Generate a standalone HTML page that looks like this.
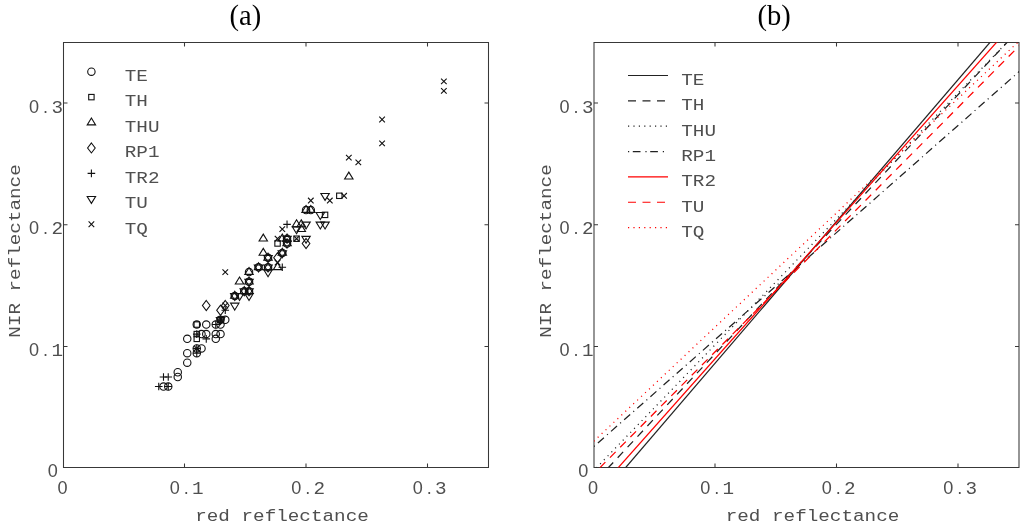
<!DOCTYPE html><html><head><meta charset="utf-8"><title>Figure</title><style>html,body{margin:0;padding:0;background:#fff;overflow:hidden}svg{display:block}</style></head><body>
<svg width="1024" height="524" viewBox="0 0 1024 524">
<rect width="1024" height="524" fill="#fff"/>
<g font-family="'Liberation Serif', 'Times New Roman', serif" font-size="28.5" fill="#000"><text x="229.6" y="25">(a)</text><text x="757.6" y="25">(b)</text></g>
<path d="M63.5 42.5H488.5V467.5H63.5Z" fill="none" stroke="#383838" stroke-width="1.05"/>
<path d="M184.5 467.5v-4M184.5 42.5v4M63.5 346.5h4M488.5 346.5h-4M306 467.5v-4M306 42.5v4M63.5 224.8h4M488.5 224.8h-4M427.5 467.5v-4M427.5 42.5v4M63.5 103h4M488.5 103h-4" fill="none" stroke="#383838" stroke-width="1.05"/>
<g font-family="'Liberation Mono', 'Courier New', monospace" font-size="19.3" fill="#4f4f4f">
<text transform="translate(0 494.3) scale(1 0.97)" y="0" text-anchor="middle"><tspan x="62.6" font-family="'Liberation Sans', Arial, sans-serif" font-size="18.1">0</tspan></text>
<text transform="translate(0 494.3) scale(1 0.97)" y="0" text-anchor="middle"><tspan x="174.72" font-family="'Liberation Sans', Arial, sans-serif" font-size="18.1">0</tspan><tspan x="186.3" font-family="'Liberation Sans', Arial, sans-serif" font-size="18.1">.</tspan><tspan x="197.88">1</tspan></text>
<text transform="translate(0 494.3) scale(1 0.97)" y="0" text-anchor="middle"><tspan x="296.22" font-family="'Liberation Sans', Arial, sans-serif" font-size="18.1">0</tspan><tspan x="307.8" font-family="'Liberation Sans', Arial, sans-serif" font-size="18.1">.</tspan><tspan x="319.38">2</tspan></text>
<text transform="translate(0 494.3) scale(1 0.97)" y="0" text-anchor="middle"><tspan x="417.72" font-family="'Liberation Sans', Arial, sans-serif" font-size="18.1">0</tspan><tspan x="429.3" font-family="'Liberation Sans', Arial, sans-serif" font-size="18.1">.</tspan><tspan x="440.88">3</tspan></text>
<text transform="translate(0 477.4) scale(1 0.97)" y="0" text-anchor="middle"><tspan x="52.81" font-family="'Liberation Sans', Arial, sans-serif" font-size="18.1">0</tspan></text>
<text transform="translate(0 356.1) scale(1 0.97)" y="0" text-anchor="middle"><tspan x="34.05" font-family="'Liberation Sans', Arial, sans-serif" font-size="18.1">0</tspan><tspan x="45.63" font-family="'Liberation Sans', Arial, sans-serif" font-size="18.1">.</tspan><tspan x="57.21">1</tspan></text>
<text transform="translate(0 234.4) scale(1 0.97)" y="0" text-anchor="middle"><tspan x="34.05" font-family="'Liberation Sans', Arial, sans-serif" font-size="18.1">0</tspan><tspan x="45.63" font-family="'Liberation Sans', Arial, sans-serif" font-size="18.1">.</tspan><tspan x="57.21">2</tspan></text>
<text transform="translate(0 112.6) scale(1 0.97)" y="0" text-anchor="middle"><tspan x="34.05" font-family="'Liberation Sans', Arial, sans-serif" font-size="18.1">0</tspan><tspan x="45.63" font-family="'Liberation Sans', Arial, sans-serif" font-size="18.1">.</tspan><tspan x="57.21">3</tspan></text>
</g>
<path d="M594 42.5H1019V467.5H594Z" fill="none" stroke="#383838" stroke-width="1.05"/>
<path d="M715 467.5v-4M715 42.5v4M594 346.5h4M1019 346.5h-4M836.5 467.5v-4M836.5 42.5v4M594 224.8h4M1019 224.8h-4M958 467.5v-4M958 42.5v4M594 103h4M1019 103h-4" fill="none" stroke="#383838" stroke-width="1.05"/>
<g font-family="'Liberation Mono', 'Courier New', monospace" font-size="19.3" fill="#4f4f4f">
<text transform="translate(0 494.3) scale(1 0.97)" y="0" text-anchor="middle"><tspan x="593.1" font-family="'Liberation Sans', Arial, sans-serif" font-size="18.1">0</tspan></text>
<text transform="translate(0 494.3) scale(1 0.97)" y="0" text-anchor="middle"><tspan x="705.22" font-family="'Liberation Sans', Arial, sans-serif" font-size="18.1">0</tspan><tspan x="716.8" font-family="'Liberation Sans', Arial, sans-serif" font-size="18.1">.</tspan><tspan x="728.38">1</tspan></text>
<text transform="translate(0 494.3) scale(1 0.97)" y="0" text-anchor="middle"><tspan x="826.72" font-family="'Liberation Sans', Arial, sans-serif" font-size="18.1">0</tspan><tspan x="838.3" font-family="'Liberation Sans', Arial, sans-serif" font-size="18.1">.</tspan><tspan x="849.88">2</tspan></text>
<text transform="translate(0 494.3) scale(1 0.97)" y="0" text-anchor="middle"><tspan x="948.22" font-family="'Liberation Sans', Arial, sans-serif" font-size="18.1">0</tspan><tspan x="959.8" font-family="'Liberation Sans', Arial, sans-serif" font-size="18.1">.</tspan><tspan x="971.38">3</tspan></text>
<text transform="translate(0 477.4) scale(1 0.97)" y="0" text-anchor="middle"><tspan x="583.31" font-family="'Liberation Sans', Arial, sans-serif" font-size="18.1">0</tspan></text>
<text transform="translate(0 356.1) scale(1 0.97)" y="0" text-anchor="middle"><tspan x="564.55" font-family="'Liberation Sans', Arial, sans-serif" font-size="18.1">0</tspan><tspan x="576.13" font-family="'Liberation Sans', Arial, sans-serif" font-size="18.1">.</tspan><tspan x="587.71">1</tspan></text>
<text transform="translate(0 234.4) scale(1 0.97)" y="0" text-anchor="middle"><tspan x="564.55" font-family="'Liberation Sans', Arial, sans-serif" font-size="18.1">0</tspan><tspan x="576.13" font-family="'Liberation Sans', Arial, sans-serif" font-size="18.1">.</tspan><tspan x="587.71">2</tspan></text>
<text transform="translate(0 112.6) scale(1 0.97)" y="0" text-anchor="middle"><tspan x="564.55" font-family="'Liberation Sans', Arial, sans-serif" font-size="18.1">0</tspan><tspan x="576.13" font-family="'Liberation Sans', Arial, sans-serif" font-size="18.1">.</tspan><tspan x="587.71">3</tspan></text>
</g>
<g font-family="'Liberation Mono', 'Courier New', monospace" font-size="19.3" fill="#4f4f4f"><text transform="translate(282 520.6) scale(1 0.86)" text-anchor="middle">red reflectance</text><text transform="translate(20.2 251) rotate(-90) scale(1 0.88)" text-anchor="middle">NIR reflectance</text></g>
<g font-family="'Liberation Mono', 'Courier New', monospace" font-size="19.3" fill="#4f4f4f"><text transform="translate(812.5 520.6) scale(1 0.86)" text-anchor="middle">red reflectance</text><text transform="translate(550.7 251) rotate(-90) scale(1 0.88)" text-anchor="middle">NIR reflectance</text></g>
<g fill="none" stroke="#111" stroke-width="1.1">
<circle cx="163.49" cy="386.55" r="3.7"/>
<circle cx="168.24" cy="386.55" r="3.7"/>
<circle cx="177.75" cy="377.01" r="3.7"/>
<circle cx="177.75" cy="372.24" r="3.7"/>
<circle cx="187.25" cy="362.7" r="3.7"/>
<circle cx="187.25" cy="353.16" r="3.7"/>
<circle cx="187.25" cy="338.86" r="3.7"/>
<circle cx="196.76" cy="353.16" r="3.7"/>
<circle cx="196.76" cy="348.39" r="3.7"/>
<circle cx="201.51" cy="348.39" r="3.7"/>
<circle cx="196.76" cy="324.55" r="3.7"/>
<circle cx="206.26" cy="324.55" r="3.7"/>
<circle cx="215.76" cy="324.55" r="3.7"/>
<circle cx="220.52" cy="324.55" r="3.7"/>
<circle cx="201.51" cy="334.09" r="3.7"/>
<circle cx="206.26" cy="334.09" r="3.7"/>
<circle cx="215.76" cy="334.09" r="3.7"/>
<circle cx="215.76" cy="338.86" r="3.7"/>
<circle cx="220.52" cy="319.78" r="3.7"/>
<circle cx="225.27" cy="319.78" r="3.7"/>
<circle cx="234.77" cy="295.94" r="3.7"/>
<circle cx="244.28" cy="291.17" r="3.7"/>
<circle cx="249.03" cy="291.17" r="3.7"/>
<circle cx="249.03" cy="281.63" r="3.7"/>
<circle cx="249.03" cy="272.09" r="3.7"/>
<circle cx="258.53" cy="267.32" r="3.7"/>
<circle cx="268.04" cy="267.32" r="3.7"/>
<circle cx="268.04" cy="257.78" r="3.7"/>
<circle cx="282.29" cy="253.01" r="3.7"/>
<circle cx="287.04" cy="238.71" r="3.7"/>
<circle cx="287.04" cy="243.48" r="3.7"/>
<circle cx="306.05" cy="210.09" r="3.7"/>
<circle cx="310.8" cy="210.09" r="3.7"/>
<circle cx="220.52" cy="334.09" r="3.7"/>
<rect x="194.06" y="336.16" width="5.4" height="5.4"/>
<rect x="194.06" y="331.39" width="5.4" height="5.4"/>
<rect x="194.06" y="321.85" width="5.4" height="5.4"/>
<rect x="217.82" y="317.08" width="5.4" height="5.4"/>
<rect x="274.84" y="240.78" width="5.4" height="5.4"/>
<rect x="293.85" y="236.01" width="5.4" height="5.4"/>
<rect x="322.36" y="212.16" width="5.4" height="5.4"/>
<rect x="336.62" y="193.09" width="5.4" height="5.4"/>
<path d="M234.77 291.34L238.97 298.24H230.57Z"/>
<path d="M244.28 286.57L248.48 293.47H240.08Z"/>
<path d="M249.03 286.57L253.23 293.47H244.83Z"/>
<path d="M239.52 277.03L243.72 283.93H235.32Z"/>
<path d="M249.03 277.03L253.23 283.93H244.83Z"/>
<path d="M249.03 267.49L253.23 274.39H244.83Z"/>
<path d="M258.53 262.72L262.73 269.62H254.33Z"/>
<path d="M268.04 262.72L272.24 269.62H263.84Z"/>
<path d="M268.04 253.18L272.24 260.08H263.84Z"/>
<path d="M277.54 262.72L281.74 269.62H273.34Z"/>
<path d="M263.28 248.41L267.48 255.31H259.08Z"/>
<path d="M282.29 248.41L286.49 255.31H278.09Z"/>
<path d="M263.28 234.11L267.48 241.01H259.08Z"/>
<path d="M282.29 234.11L286.49 241.01H278.09Z"/>
<path d="M287.04 234.11L291.24 241.01H282.84Z"/>
<path d="M287.04 238.88L291.24 245.78H282.84Z"/>
<path d="M296.55 219.8L300.75 226.7H292.35Z"/>
<path d="M301.3 219.8L305.5 226.7H297.1Z"/>
<path d="M301.3 224.57L305.5 231.47H297.1Z"/>
<path d="M306.05 205.49L310.25 212.39H301.85Z"/>
<path d="M310.8 205.49L315 212.39H306.6Z"/>
<path d="M348.82 172.11L353.02 179.01H344.62Z"/>
<path d="M234.77 310.07L238.97 303.17H230.57Z"/>
<path d="M234.77 300.54L238.97 293.64H230.57Z"/>
<path d="M239.52 300.54L243.72 293.64H235.32Z"/>
<path d="M244.28 295.77L248.48 288.87H240.08Z"/>
<path d="M249.03 295.77L253.23 288.87H244.83Z"/>
<path d="M249.03 300.54L253.23 293.64H244.83Z"/>
<path d="M249.03 286.23L253.23 279.33H244.83Z"/>
<path d="M258.53 271.92L262.73 265.02H254.33Z"/>
<path d="M268.04 271.92L272.24 265.02H263.84Z"/>
<path d="M268.04 276.69L272.24 269.79H263.84Z"/>
<path d="M268.04 262.38L272.24 255.48H263.84Z"/>
<path d="M282.29 257.62L286.49 250.71H278.09Z"/>
<path d="M287.04 248.08L291.24 241.18H282.84Z"/>
<path d="M287.04 243.31L291.24 236.41H282.84Z"/>
<path d="M296.55 233.77L300.75 226.87H292.35Z"/>
<path d="M306.05 229L310.25 222.1H301.85Z"/>
<path d="M306.05 243.31L310.25 236.41H301.85Z"/>
<path d="M320.31 229L324.51 222.1H316.11Z"/>
<path d="M325.06 229L329.26 222.1H320.86Z"/>
<path d="M320.31 219.46L324.51 212.56H316.11Z"/>
<path d="M325.06 200.39L329.26 193.49H320.86Z"/>
<path d="M220.52 324.38L224.72 317.48H216.32Z"/>
<path d="M206.26 300.47L210.06 305.47L206.26 310.47L202.46 305.47Z"/>
<path d="M225.27 300.47L229.07 305.47L225.27 310.47L221.47 305.47Z"/>
<path d="M220.52 305.24L224.32 310.24L220.52 315.24L216.72 310.24Z"/>
<path d="M277.54 252.78L281.34 257.78L277.54 262.78L273.74 257.78Z"/>
<path d="M306.05 238.48L309.85 243.48L306.05 248.48L302.25 243.48Z"/>
<path d="M192.96 334.09H200.56M196.76 330.29V337.89"/>
<path d="M154.94 386.55H162.54M158.74 382.75V390.35"/>
<path d="M159.69 377.01H167.29M163.49 373.21V380.81"/>
<path d="M164.44 377.01H172.04M168.24 373.21V380.81"/>
<path d="M164.44 386.55H172.04M168.24 382.75V390.35"/>
<path d="M192.96 353.16H200.56M196.76 349.36V356.96"/>
<path d="M192.96 348.39H200.56M196.76 344.59V352.19"/>
<path d="M202.46 338.86H210.06M206.26 335.06V342.66"/>
<path d="M211.96 324.55H219.56M215.76 320.75V328.35"/>
<path d="M221.47 310.24H229.07M225.27 306.44V314.04"/>
<path d="M278.49 267.32H286.09M282.29 263.52V271.12"/>
<path d="M283.24 224.4H290.84M287.04 220.6V228.2"/>
<path d="M216.72 319.78H224.32M220.52 315.98V323.58"/>
<path d="M193.96 345.59L199.56 351.19M193.96 351.19L199.56 345.59"/>
<path d="M222.47 269.29L228.07 274.89M222.47 274.89L228.07 269.29"/>
<path d="M274.74 259.75L280.34 265.35M274.74 265.35L280.34 259.75"/>
<path d="M274.74 235.91L280.34 241.51M274.74 241.51L280.34 235.91"/>
<path d="M279.49 226.37L285.09 231.97M279.49 231.97L285.09 226.37"/>
<path d="M308 197.76L313.6 203.36M308 203.36L313.6 197.76"/>
<path d="M327.01 197.76L332.61 203.36M327.01 203.36L332.61 197.76"/>
<path d="M341.27 192.99L346.87 198.59M341.27 198.59L346.87 192.99"/>
<path d="M346.02 154.83L351.62 160.44M346.02 160.44L351.62 154.83"/>
<path d="M355.52 159.6L361.12 165.2M355.52 165.2L361.12 159.6"/>
<path d="M379.28 140.53L384.88 146.13M379.28 146.13L384.88 140.53"/>
<path d="M379.28 116.68L384.88 122.28M379.28 122.28L384.88 116.68"/>
<path d="M441.06 88.07L446.66 93.67M441.06 93.67L446.66 88.07"/>
<path d="M441.06 78.53L446.66 84.13M441.06 84.13L446.66 78.53"/>
<path d="M222.47 302.67L228.07 308.27M222.47 308.27L228.07 302.67"/>
<path d="M293.75 235.91L299.35 241.51M293.75 241.51L299.35 235.91"/>
<path d="M217.72 316.98L223.32 322.58M217.72 322.58L223.32 316.98"/>
<circle cx="91.4" cy="71.7" r="3.7"/>
<rect x="88.7" y="94.42" width="5.4" height="5.4"/>
<path d="M91.4 117.94L95.6 124.84H87.2Z"/>
<path d="M91.4 142.96L95.2 147.96L91.4 152.96L87.6 147.96Z"/>
<path d="M87.6 173.38H95.2M91.4 169.58V177.18"/>
<path d="M91.4 203.4L95.6 196.5H87.2Z"/>
<path d="M88.6 221.42L94.2 227.02M88.6 227.02L94.2 221.42"/>
</g>
<g font-family="'Liberation Mono', 'Courier New', monospace" font-size="19.3" fill="#4f4f4f">
<text transform="translate(124.8 81) scale(1 0.89)">TE</text>
<text transform="translate(124.8 106.42) scale(1 0.89)">TH</text>
<text transform="translate(124.8 131.84) scale(1 0.89)">THU</text>
<text transform="translate(124.8 157.26) scale(1 0.89)">RP1</text>
<text transform="translate(124.8 182.68) scale(1 0.89)">TR2</text>
<text transform="translate(124.8 208.1) scale(1 0.89)">TU</text>
<text transform="translate(124.8 233.52) scale(1 0.89)">TQ</text>
</g>
<defs><clipPath id="cb"><rect x="594" y="42.5" width="425" height="425"/></clipPath></defs>
<g clip-path="url(#cb)" fill="none" stroke-width="1.25">
<path d="M623.75 469.78L991.85 40.22" stroke="#222"/>
<path d="M606.45 469.69L1009.05 40.31" stroke="#222" stroke-dasharray="8 6.49" stroke-dashoffset="12.58"/>
<path d="M594.62 469.66L1008.88 40.34" stroke="#222" stroke-dasharray="1.1 4.34" stroke-dashoffset="2.96"/>
<path d="M591.75 448.38L1021.25 69.72" stroke="#222" stroke-dasharray="8 4.2 1.1 4.2" stroke-dashoffset="9.3"/>
<path d="M616.41 469.74L998.39 40.26" stroke="#f00"/>
<path d="M597.98 469.63L1021.22 43.87" stroke="#f00" stroke-dasharray="8 6.5" stroke-dashoffset="12.0"/>
<path d="M591.81 443.06L1019.79 40.44" stroke="#f00" stroke-dasharray="1.1 4.326" stroke-dashoffset="2.77"/>
</g>
<g fill="none" stroke-width="1.2">
<path d="M628 75.5H668" stroke="#222"/>
<path d="M628 100.85H668" stroke="#222" stroke-dasharray="8 6.49"/>
<path d="M628 126.2H668" stroke="#222" stroke-dasharray="1.2 4.2"/>
<path d="M628 151.55H667" stroke="#222" stroke-dasharray="1.2 3.6 7.7 4.9"/>
<path d="M628 176.9H668" stroke="#f00"/>
<path d="M628 202.25H668" stroke="#f00" stroke-dasharray="8 6.5"/>
<path d="M628 227.6H668" stroke="#f00" stroke-dasharray="1.2 4.2"/>
</g>
<g font-family="'Liberation Mono', 'Courier New', monospace" font-size="19.3" fill="#4f4f4f">
<text transform="translate(681.3 85) scale(1 0.89)">TE</text>
<text transform="translate(681.3 110.35) scale(1 0.89)">TH</text>
<text transform="translate(681.3 135.7) scale(1 0.89)">THU</text>
<text transform="translate(681.3 161.05) scale(1 0.89)">RP1</text>
<text transform="translate(681.3 186.4) scale(1 0.89)">TR2</text>
<text transform="translate(681.3 211.75) scale(1 0.89)">TU</text>
<text transform="translate(681.3 237.1) scale(1 0.89)">TQ</text>
</g>
</svg></body></html>
